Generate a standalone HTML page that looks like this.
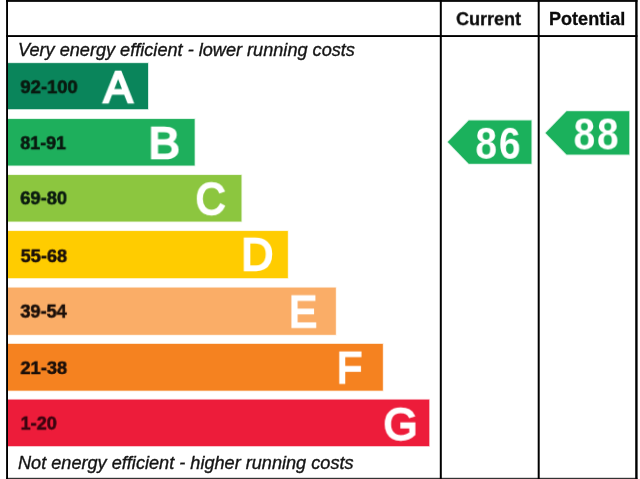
<!DOCTYPE html>
<html lang="en">
<head>
<meta charset="utf-8">
<title>Energy Efficiency Rating</title>
<style>
html,body{margin:0;padding:0;background:#fff}
body{width:640px;height:479px;overflow:hidden;position:relative;font-family:"Liberation Sans", sans-serif}
.chart{position:absolute;left:0;top:0;width:640px;height:479px;background:#fff}
.chart svg{position:absolute;left:0;top:0;overflow:visible}
.t{position:absolute;left:0;top:0;white-space:nowrap;line-height:1;transform-origin:0 0;margin:0;will-change:transform}
.b{font-weight:bold}
.i{font-style:italic}
</style>
</head>
<body>
<div class="chart">
<svg width="640" height="479" viewBox="0 0 640 479">
<g>
<rect x="7" y="62.35" width="141.80" height="47.55" fill="#0a855b" opacity="0.2"/>
<rect x="7" y="63.15" width="141.00" height="45.95" fill="#0a855b"/>
<rect x="7" y="118.25" width="188.40" height="48.05" fill="#1eaf5c" opacity="0.2"/>
<rect x="7" y="119.05" width="187.60" height="46.45" fill="#1eaf5c"/>
<rect x="7" y="174.25" width="235.20" height="48.05" fill="#8cc63f" opacity="0.2"/>
<rect x="7" y="175.05" width="234.40" height="46.45" fill="#8cc63f"/>
<rect x="7" y="230.25" width="281.60" height="48.65" fill="#ffcc00" opacity="0.2"/>
<rect x="7" y="231.05" width="280.80" height="47.05" fill="#ffcc00"/>
<rect x="7" y="286.85" width="329.60" height="48.75" fill="#faad67" opacity="0.2"/>
<rect x="7" y="287.65" width="328.80" height="47.15" fill="#faad67"/>
<rect x="7" y="343.15" width="376.60" height="48.25" fill="#f58220" opacity="0.2"/>
<rect x="7" y="343.95" width="375.80" height="46.65" fill="#f58220"/>
<rect x="7" y="398.85" width="423.00" height="48.05" fill="#ed1c3a" opacity="0.2"/>
<rect x="7" y="399.65" width="422.20" height="46.45" fill="#ed1c3a"/>
<polygon points="447.80,142.00 468.80,120.40 531.40,120.40 531.40,163.70 468.80,163.70" fill="#1bb15c" stroke="#1bb15c" stroke-width="1.6" stroke-linejoin="miter" opacity="0.2"/>
<polygon points="447.80,142.00 468.80,120.40 531.40,120.40 531.40,163.70 468.80,163.70" fill="#1bb15c"/>
<polygon points="545.60,132.90 566.60,111.30 629.20,111.30 629.20,154.60 566.60,154.60" fill="#1bb15c" stroke="#1bb15c" stroke-width="1.6" stroke-linejoin="miter" opacity="0.2"/>
<polygon points="545.60,132.90 566.60,111.30 629.20,111.30 629.20,154.60 566.60,154.60" fill="#1bb15c"/>
</g>
<rect x="6.1" y="-12" width="631.3" height="13.9" fill="#0a0a0a"/>
<rect x="6.1" y="35.1" width="631.3" height="1.9" fill="#000"/>
<rect x="6.1" y="477.8" width="631.3" height="12" fill="#333"/>
<rect x="6.1" y="-12" width="1.9" height="503" fill="#000"/>
<rect x="439.8" y="-12" width="2.0" height="503" fill="#000"/>
<rect x="537.7" y="-12" width="2.0" height="503" fill="#000"/>
<rect x="635.2" y="-12" width="2.4" height="503" fill="#000"/>
</svg>
<div class="t b" style="font-size:18px;color:#0b0b0b;-webkit-text-stroke:0.3px #0b0b0b;transform:translate(456.07px,10.17px) scale(0.9992,1.0000)">Current</div>
<div class="t b" style="font-size:18px;color:#0b0b0b;-webkit-text-stroke:0.3px #0b0b0b;transform:translate(549.02px,10.24px) scale(1.0027,1.0000)">Potential</div>
<div class="t i" style="font-size:18px;color:#141414;-webkit-text-stroke:0.35px #141414;transform:translate(18.00px,40.97px) scale(1.0072,1.0000)">Very energy efficient - lower running costs</div>
<div class="t i" style="font-size:18px;color:#141414;-webkit-text-stroke:0.35px #141414;transform:translate(18.00px,453.93px) scale(1.0071,1.0000)">Not energy efficient - higher running costs</div>
<div class="t b" style="font-size:19px;color:#0a1a10;-webkit-text-stroke:0.6px #0a1a10;transform:translate(20.40px,77.31px) scale(0.9686,0.9943)">92-100</div>
<div class="t b" style="font-size:19px;color:#0a1a10;-webkit-text-stroke:0.6px #0a1a10;transform:translate(20.29px,133.32px) scale(0.9395,0.9937)">81-91</div>
<div class="t b" style="font-size:19px;color:#0a1a10;-webkit-text-stroke:0.6px #0a1a10;transform:translate(20.23px,188.33px) scale(0.9638,1.0101)">69-80</div>
<div class="t b" style="font-size:19px;color:#1a0f0a;-webkit-text-stroke:0.6px #1a0f0a;transform:translate(20.62px,246.53px) scale(0.9561,0.9777)">55-68</div>
<div class="t b" style="font-size:19px;color:#1a0f0a;-webkit-text-stroke:0.6px #1a0f0a;transform:translate(20.38px,301.58px) scale(0.9523,1.0110)">39-54</div>
<div class="t b" style="font-size:19px;color:#1a0f0a;-webkit-text-stroke:0.6px #1a0f0a;transform:translate(20.42px,358.55px) scale(0.9609,0.9664)">21-38</div>
<div class="t b" style="font-size:19px;color:#3a0510;-webkit-text-stroke:0.6px #3a0510;transform:translate(20.52px,413.57px) scale(0.9522,1.0114)">1-20</div>
<div class="t" style="font-size:45px;color:#fff;-webkit-text-stroke:2.4px #fff;transform:translate(103.58px,65.03px) scale(0.9671,0.9795)">A</div>
<div class="t" style="font-size:44.5px;color:#fff;-webkit-text-stroke:2.4px #fff;transform:translate(148.50px,121.93px) scale(1.0557,0.9753)">B</div>
<div class="t" style="font-size:44.5px;color:#fff;-webkit-text-stroke:2.4px #fff;transform:translate(195.76px,177.27px) scale(0.9203,1.0023)">C</div>
<div class="t" style="font-size:46px;color:#fff;-webkit-text-stroke:2.4px #fff;transform:translate(241.37px,231.98px) scale(0.9576,0.9753)">D</div>
<div class="t" style="font-size:45px;color:#fff;-webkit-text-stroke:2.4px #fff;transform:translate(289.19px,289.60px) scale(0.9195,0.9779)">E</div>
<div class="t" style="font-size:44.5px;color:#fff;-webkit-text-stroke:2.4px #fff;transform:translate(337.00px,346.90px) scale(0.9164,0.9661)">F</div>
<div class="t" style="font-size:45px;color:#fff;-webkit-text-stroke:2.4px #fff;transform:translate(383.63px,401.67px) scale(0.9671,1.0013)">G</div>
<div class="t b" style="font-size:44px;color:#fff;letter-spacing:0.05em;transform:translate(475.42px,121.78px) scale(0.8795,1.0012)">86</div>
<div class="t b" style="font-size:44px;color:#fff;letter-spacing:0.05em;transform:translate(573.61px,112.51px) scale(0.8772,0.9991)">88</div>
</div>
</body>
</html>
